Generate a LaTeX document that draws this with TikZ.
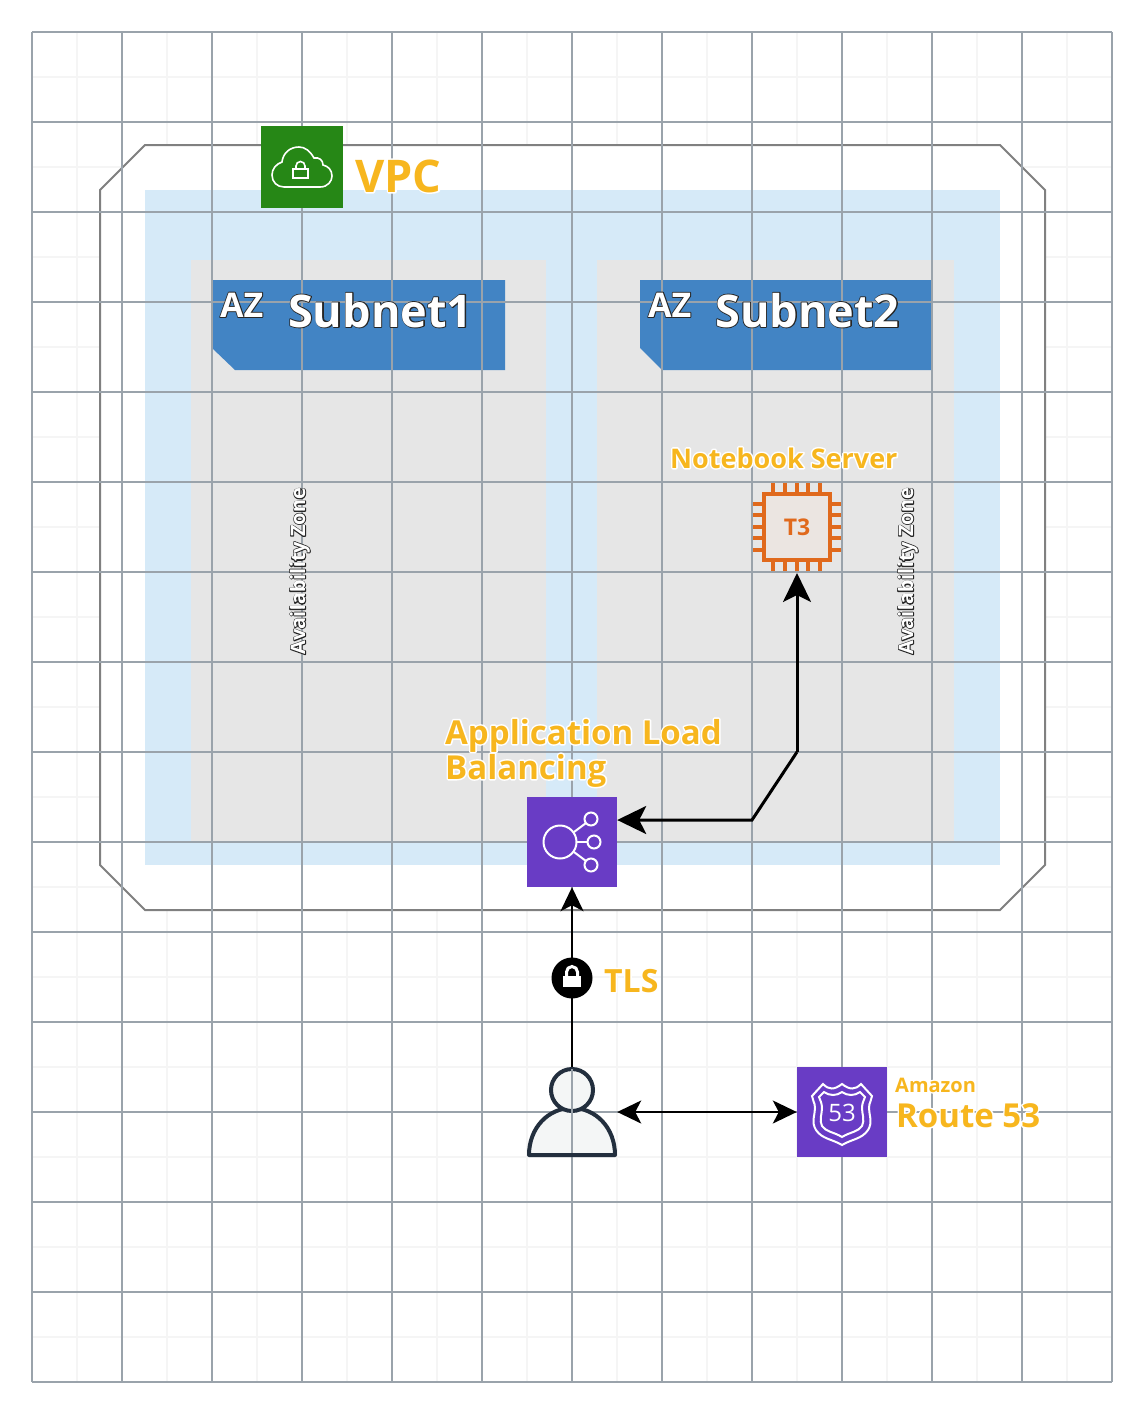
\documentclass[tikz,border=0pt]{standalone}
\usepackage{fontspec}
\usepackage{xcolor}
\usetikzlibrary{arrows.meta}
\setmainfont{Open Sans}
\definecolor{gridmajor}{HTML}{9AA3AB}
\definecolor{gridminor}{HTML}{F5F5F5}
\definecolor{vpcblue}{HTML}{D6EAF8}
\definecolor{azgray}{HTML}{E6E6E6}
\definecolor{subnetblue}{HTML}{4284C4}
\definecolor{vpcgreen}{HTML}{268716}
\definecolor{awspurple}{HTML}{693CC5}
\definecolor{chiporange}{HTML}{E0691C}
\definecolor{chipfill}{HTML}{EBE5E1}
\definecolor{labelyellow}{HTML}{F7B61E}
\definecolor{userdark}{HTML}{232F3E}
\definecolor{userfill}{HTML}{F4F6F6}
% text with an outline stroked under its fill
\newcommand{\halotext}[3]{\leavevmode\rlap{\special{pdf:code #1 RG #2 w 1 j 1 Tr}#3\special{pdf:code 0 Tr 0 j}}#3}
\tikzset{
	yellowlabel/.style={anchor=base west, inner sep=0pt, text=labelyellow, font=\bfseries},
	whitelabel/.style={anchor=base west, inner sep=0pt, text=white},
	azlabel/.style={anchor=center, inner sep=0pt, text=white, rotate=90, font=\bfseries\fontsize{20}{20}\selectfont},
	iconbox/.style={minimum size=90pt, inner sep=0pt, fill=awspurple},
	iconline/.style={draw=white, line width=2pt},
	bigarrow/.style={line width=3pt, -{Stealth[length=29pt, width=28pt, inset=7pt]}},
	smallarrow/.style={line width=2pt, -{Stealth[length=24pt, width=23pt, inset=6pt]}}
}
\begin{document}
\begin{tikzpicture}[x=1pt, y=-1pt]
		\useasboundingbox (0,0) rectangle (1144,1414);
		\fill[white] (0,0) rectangle (1144,1414);
		
		% Minor grid
		\foreach \gx in {77,167,...,1067}
			\draw[gridminor, line width=2pt] (\gx,32) -- (\gx,1382);
		\foreach \gy in {77,167,...,1337}
			\draw[gridminor, line width=2pt] (32,\gy) -- (1112,\gy);
		
		% VPC outline and blocks
		\draw[fill=white, draw=gray, line width=2pt] (145,145) -- (1000,145) -- (1045,190) -- (1045,865) -- (1000,910) -- (145,910) -- (100,865) -- (100,190) -- cycle;
		\fill[vpcblue] (145,190) rectangle (1000,865);
		\fill[azgray] (191,260) rectangle (546,842);
		\fill[azgray] (597,260) rectangle (954,842);
		
		% Subnet banners
		\fill[subnetblue] (212,280) -- (505,280) -- (505,370) -- (235,370) -- (212,348) -- cycle;
		\fill[subnetblue] (640,280) -- (932,280) -- (932,370) -- (662,370) -- (640,348) -- cycle;
		
		% Major grid
		\foreach \gx in {32,122,...,1112}
			\draw[gridmajor, line width=1.8pt] (\gx,32) -- (\gx,1382);
		\foreach \gy in {32,122,...,1382}
			\draw[gridmajor, line width=1.8pt] (32,\gy) -- (1112,\gy);
		
		% VPC icon
		\node[fill=vpcgreen, minimum size=82pt, inner sep=0pt] (vpcicon) at (302,167) {};
		\draw[white, line width=1.6pt] (284,187) -- (320,187) .. controls (328,187) and (332,181) .. (332,176) .. controls (332,170) and (328,166) .. (323,165) .. controls (323,160) and (319,157) .. (314,158) .. controls (310,151) and (305,147) .. (299,147) .. controls (290,147) and (283,153) .. (282,162) .. controls (276,164) and (272,169) .. (272,175) .. controls (272,182) and (277,187) .. (284,187) -- cycle;
		\draw[white, line width=1.6pt] (293,169) rectangle (308,178);
		\draw[white, line width=1.6pt] (296,169) -- (296,166) arc[start angle=180, end angle=360, x radius=4.5pt, y radius=-4.5pt] -- (305,169);
		
		% Availability zones text
		\node[azlabel] (azlabela) at (300,571) {\halotext{0.15 0.15 0.15}{1.6}{Availability Zone}};
		\node[azlabel] (azlabelb) at (908,571) {\halotext{0.15 0.15 0.15}{1.6}{Availability Zone}};
		
		% Subnet labels
		\node[whitelabel, font=\bfseries\fontsize{34}{34}\selectfont] (azmarka) at (220,317) {\halotext{0.15 0.15 0.15}{1.8}{AZ}};
		\node[whitelabel, font=\bfseries\fontsize{34}{34}\selectfont] (azmarkb) at (648,317) {\halotext{0.15 0.15 0.15}{1.8}{AZ}};
		\node[whitelabel, font=\bfseries\fontsize{45}{45}\selectfont] (subneta) at (288,327) {\halotext{0.15 0.15 0.15}{1.8}{Subnet1}};
		\node[whitelabel, font=\bfseries\fontsize{45}{45}\selectfont] (subnetb) at (715,327) {\halotext{0.15 0.15 0.15}{1.8}{Subnet2}};
		
		% Yellow labels
		\node[yellowlabel, font=\bfseries\fontsize{45}{45}\selectfont] (vpclabel) at (355,192) {\halotext{1 1 1}{3}{VPC}};
		\node[yellowlabel, font=\bfseries\fontsize{27}{27}\selectfont] (chiplabel) at (670,468) {\halotext{1 1 1}{3}{Notebook Server}};
		\node[yellowlabel, font=\bfseries\fontsize{33}{34}\selectfont] (alblabela) at (445,744) {\halotext{1 1 1}{3}{Application Load}};
		\node[yellowlabel, font=\bfseries\fontsize{33}{34}\selectfont] (alblabelb) at (445,779) {\halotext{1 1 1}{3}{Balancing}};
		\node[yellowlabel, font=\bfseries\fontsize{32}{32}\selectfont] (tlslabel) at (604,992) {\halotext{1 1 1}{3}{TLS}};
		\node[yellowlabel, font=\fontsize{20}{20}\selectfont\bfseries] (amazonlabel) at (895,1092) {\halotext{1 1 1}{3}{Amazon}};
		\node[yellowlabel, font=\bfseries\fontsize{33}{33}\selectfont] (routelabel) at (896,1127) {\halotext{1 1 1}{3}{Route 53}};
		
		% T3 chip
		\foreach \p in {773,785,797,808,820} {
			\draw[chiporange, line width=3.5pt] (\p,483) -- (\p,492);
			\draw[chiporange, line width=3.5pt] (\p,562) -- (\p,571);
		}
		\foreach \p in {504,515,527,538,550} {
			\draw[chiporange, line width=3.5pt] (753,\p) -- (762,\p);
			\draw[chiporange, line width=3.5pt] (832,\p) -- (841,\p);
		}
		\node[draw=chiporange, fill=chipfill, line width=4pt, minimum size=66pt, inner sep=0pt, text=chiporange, font=\bfseries\fontsize{23}{23}\selectfont] (chip) at (797,527) {T3};
		\coordinate (chiptip) at (797,573);
		
		% Load balancer
		\node[iconbox] (alb) at (572,842) {};
		\draw[iconline] (560,842) circle[radius=16.5pt];
		\draw[iconline] (591,819) circle[radius=6.5pt];
		\draw[iconline] (594,842) circle[radius=6.5pt];
		\draw[iconline] (591,865) circle[radius=6.5pt];
		\draw[iconline] (574,832) -- (586,823);
		\draw[iconline] (576.5,842) -- (587.5,842);
		\draw[iconline] (574,852) -- (586,861);
		
		% Route 53
		\node[iconbox] (route) at (842,1112) {};
		\draw[iconline] (842,1145) .. controls (832,1139) and (822,1139) .. (816,1130) .. controls (811,1122) and (815,1115) .. (815,1108) .. controls (815,1102) and (812,1100) .. (812,1096) -- (823,1084) .. controls (829,1090) and (834,1090) .. (842,1084) .. controls (850,1090) and (855,1090) .. (861,1084) -- (872,1096) .. controls (872,1100) and (869,1102) .. (869,1108) .. controls (869,1115) and (873,1122) .. (868,1130) .. controls (862,1139) and (852,1139) .. (842,1145) -- cycle;
		\draw[iconline] (842,1137) .. controls (834,1132) and (826,1132) .. (822,1126) .. controls (819,1120) and (822,1114) .. (822,1108) .. controls (822,1103) and (820,1100) .. (819,1097) -- (824,1092) .. controls (830,1096) and (836,1096) .. (842,1092) .. controls (848,1096) and (854,1096) .. (860,1092) -- (865,1097) .. controls (864,1100) and (862,1103) .. (862,1108) .. controls (862,1114) and (865,1120) .. (862,1126) .. controls (858,1132) and (850,1132) .. (842,1137) -- cycle;
		\node[text=white, inner sep=0pt, font=\fontsize{24}{24}\selectfont] (routenum) at (842,1113) {53};
		
		% User
		\node[minimum size=90pt, inner sep=0pt] (user) at (572,1112) {};
		\draw[draw=userdark, fill=userfill, line width=4pt, line join=round] (529,1155) .. controls (529,1128) and (548,1108) .. (572,1108) .. controls (596,1108) and (615,1128) .. (615,1155) -- cycle;
		\draw[draw=userdark, fill=userfill, line width=4pt] (572,1090) circle[radius=21pt];
		\draw[gridmajor, line width=1.8pt] (572,1069) -- (572,1153);
		
		% Connectors
		\coordinate (bendlow) at (752,820);
		\coordinate (bendhigh) at (797,752);
		\draw[bigarrow] (bendhigh) -- (chiptip);
		\draw[bigarrow] (bendhigh) -- (bendlow) -- (bendlow -| alb.east);
		\draw[smallarrow] (user.north) -- (alb.south);
		\draw[smallarrow, {Stealth[length=24pt, width=23pt, inset=6pt]}-{Stealth[length=24pt, width=23pt, inset=6pt]}] (user.east) -- (route.west);
		
		% TLS lock
		\node[circle, fill=black, minimum size=41pt, inner sep=0pt] (lock) at (572,978) {};
		\fill[white] (563,976) rectangle (581,987);
		\draw[white, line width=3pt] (566.5,976) -- (566.5,972) arc[start angle=180, end angle=360, x radius=5.5pt, y radius=-5.5pt] -- (577.5,976);
		
	\end{tikzpicture}
\end{document}
